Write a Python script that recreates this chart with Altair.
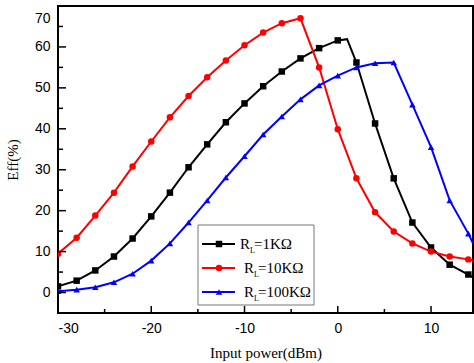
import altair as alt
import pandas as pd

# ---- data ----
series = ["1K", "10K", "100K"]
legend_rest = ["=1K\u03a9", "=10K\u03a9", "=100K\u03a9"]
colors = ["#000000", "#ff0000", "#0000ff"]
shapes = ["square", "circle", "triangle-up"]

x_1k = [-30, -28, -26, -24, -22, -20, -18, -16, -14, -12, -10, -8, -6, -4, -2, 0, 1, 2, 4, 6, 8, 10, 12, 14, 14.5]
eff_1k = [1.5, 2.9, 5.4, 8.8, 13.2, 18.6, 24.4, 30.6, 36.2, 41.6, 46.2, 50.4, 54.0, 57.2, 59.7, 61.6, 61.9,
          56.2, 41.3, 27.9, 17.1, 11.0, 6.8, 4.4, 3.7]

x_10k = [-30, -28, -26, -24, -22, -20, -18, -16, -14, -12, -10, -8, -6, -4, -2, 0, 2, 4, 6, 8, 10, 12, 14, 14.5]
eff_10k = [9.5, 13.4, 18.8, 24.4, 30.8, 36.9, 42.8, 48.0, 52.6, 56.7, 60.4, 63.5, 65.8, 67.0, 55.0, 39.9,
           27.9, 19.6, 14.9, 12.0, 10.0, 8.8, 8.1, 7.8]

x_100k = [-30, -28, -26, -24, -22, -20, -18, -16, -14, -12, -10, -8, -6, -4, -2, 0, 2, 4, 6, 8, 10, 12, 14, 14.5]
eff_100k = [0.3, 0.7, 1.3, 2.5, 4.6, 7.8, 12.0, 17.1, 22.5, 28.1, 33.3, 38.6, 43.0, 47.2, 50.6, 53.0, 55.0,
            56.0, 56.2, 45.9, 35.5, 22.5, 14.4, 12.0]

x_major = [-30, -20, -10, 0, 10]
x_minor = [-25, -15, -5, 5]
y_major = [0, 10, 20, 30, 40, 50, 60, 70]
y_minor = [5, 15, 25, 35, 45, 55, 65]

# ---- build tables ----
rows = []
for name, xs_, ys_ in [("1K", x_1k, eff_1k), ("10K", x_10k, eff_10k), ("100K", x_100k, eff_100k)]:
    for xv, yv in zip(xs_, ys_):
        rows.append({"series": name, "x": xv, "y": yv,
                     "marker": float(xv).is_integer() and int(xv) % 2 == 0})
df = pd.DataFrame(rows)

W, H = 415, 307
X_DOM = [-30, 14.5]
Y_DOM = [-5, 70]
xs = alt.Scale(domain=X_DOM, nice=False, zero=False)
ys = alt.Scale(domain=Y_DOM, nice=False, zero=False)
cs = alt.Scale(domain=series, range=colors)
ss = alt.Scale(domain=series, range=shapes)

lab_font = "Liberation Sans"
serif = "Liberation Serif"

base = alt.Chart(df)
lines = base.mark_line(strokeWidth=2, clip=True).encode(
    x=alt.X("x:Q", scale=xs, axis=alt.Axis(
        title="Input power(dBm)", values=x_major, ticks=False, domain=False, grid=False,
        labelExpr="replace(datum.label, '\u2212', '-')",
        labelFont=lab_font, labelFontSize=14, labelPadding=8, labelColor="black",
        titleFont=serif, titleFontSize=15, titleFontWeight="normal", titlePadding=10, titleColor="black")),
    y=alt.Y("y:Q", scale=ys, axis=alt.Axis(
        title="Eff(%)", values=y_major, ticks=False, domain=False, grid=False,
        labelFlush=True, labelFlushOffset=-5,
        labelFont=lab_font, labelFontSize=14, labelPadding=8, labelColor="black",
        titleFont=serif, titleFontSize=15, titleFontWeight="normal", titlePadding=14, titleColor="black")),
    color=alt.Color("series:N", scale=cs, legend=None),
    detail="series:N",
)
points = base.transform_filter("datum.marker").mark_point(filled=True, size=42, opacity=1, clip=True).encode(
    x=alt.X("x:Q", scale=xs),
    y=alt.Y("y:Q", scale=ys),
    color=alt.Color("series:N", scale=cs, legend=None),
    shape=alt.Shape("series:N", scale=ss, legend=None),
)

# inward ticks
def yticks(vals, length):
    return alt.Chart(pd.DataFrame({"y": vals})).mark_rule(color="black", strokeWidth=1.5).encode(
        y=alt.Y("y:Q", scale=ys), x=alt.value(0), x2=alt.value(length))

def xticks(vals, length):
    return alt.Chart(pd.DataFrame({"x": vals})).mark_rule(color="black", strokeWidth=1.5).encode(
        x=alt.X("x:Q", scale=xs), y=alt.value(H), y2=alt.value(H - length))

# manual legend (pixel positions computed from the series index)
leg = pd.DataFrame({
    "series": series,
    "rest": legend_rest,
    "row": [H - 69 + 24 * i for i in range(3)],
    "tx": [182, 186, 186],
})
leg["tl"] = leg["tx"] + 10
leg["tr"] = leg["tx"] + 14
leg["ly"] = leg["row"] + 7
leg["x1"] = 144
leg["x2"] = 177
leg["xm"] = 161

legbox = alt.Chart(pd.DataFrame({"a": [0]})).mark_rect(fill="white", stroke="#777777", strokeWidth=1).encode(
    x=alt.value(140), x2=alt.value(256), y=alt.value(H - 88), y2=alt.value(H - 8))
lc = alt.Chart(leg)
leg_lines = lc.mark_rule(strokeWidth=2).encode(
    x=alt.X("x1:Q", scale=None), x2="x2:Q", y=alt.Y("row:Q", scale=None),
    color=alt.Color("series:N", scale=cs, legend=None))
leg_pts = lc.mark_point(filled=True, size=42, opacity=1).encode(
    x=alt.X("xm:Q", scale=None), y=alt.Y("row:Q", scale=None),
    color=alt.Color("series:N", scale=cs, legend=None),
    shape=alt.Shape("series:N", scale=ss, legend=None))
leg_R = lc.mark_text(text="R", font=serif, fontSize=15, align="left", baseline="middle", color="black").encode(
    x=alt.X("tx:Q", scale=None), y=alt.Y("row:Q", scale=None))
leg_L = lc.mark_text(text="L", font=serif, fontSize=8, align="left", baseline="middle", color="black").encode(
    x=alt.X("tl:Q", scale=None), y=alt.Y("ly:Q", scale=None))
leg_rest = lc.mark_text(font=serif, fontSize=15, align="left", baseline="middle", color="black").encode(
    x=alt.X("tr:Q", scale=None), y=alt.Y("row:Q", scale=None), text="rest:N")

chart = alt.layer(
    lines, points,
    yticks(y_major, 8), yticks(y_minor, 5), xticks(x_major, 7), xticks(x_minor, 4),
    legbox, leg_lines, leg_pts, leg_R, leg_L, leg_rest,
).properties(
    width=W, height=H,
    autosize=alt.AutoSizeParams(type="none"),
    padding={"left": 58, "top": 6, "right": 1, "bottom": 50},
    background="white",
).configure_view(stroke="black", strokeWidth=2)

chart.save("out.html", embed_options={"renderer": "svg", "actions": False})
